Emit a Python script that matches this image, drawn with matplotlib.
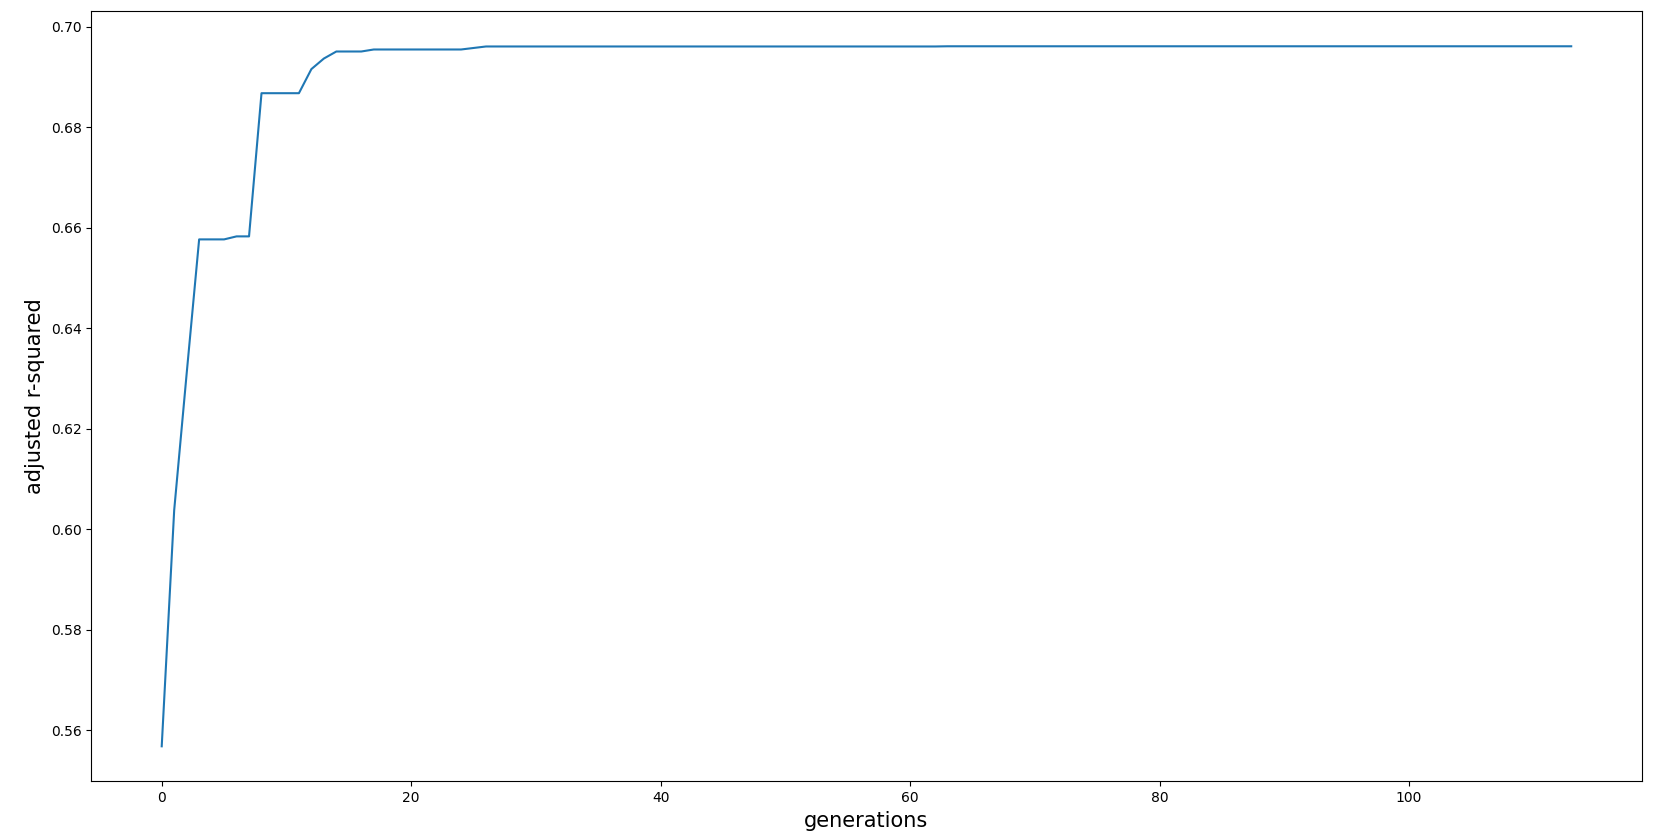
import matplotlib
matplotlib.use("Agg")
import matplotlib.pyplot as plt

generations = list(range(114))
adj_r2 = [
    0.5568, 0.6038, 0.6310, 0.6577, 0.6577, 0.6577, 0.6583, 0.6583, 0.6868, 0.6868,
    0.6868, 0.6868, 0.6916, 0.6937, 0.6951, 0.6951, 0.6951, 0.6955, 0.6955, 0.6955,
    0.6955, 0.6955, 0.6955, 0.6955, 0.6955, 0.6958, 0.6961, 0.6961, 0.6961, 0.6961,
    0.6961, 0.6961, 0.6961, 0.6961, 0.6961, 0.6961, 0.6961, 0.6961, 0.6961, 0.6961,
    0.6961, 0.6961, 0.6961, 0.6961, 0.6961, 0.6961, 0.6961, 0.6961, 0.6961, 0.6961,
    0.6961, 0.6961, 0.6961, 0.6961, 0.6961, 0.6961, 0.6961, 0.6961, 0.6961, 0.6961,
    0.6961, 0.6961, 0.6961, 0.69614, 0.69614, 0.69614, 0.69614, 0.69614, 0.69614, 0.69614,
    0.69614, 0.69614, 0.69614, 0.69614, 0.69614, 0.69614, 0.69614, 0.69614, 0.69614, 0.69614,
    0.69614, 0.69614, 0.69614, 0.69614, 0.69614, 0.69614, 0.69614, 0.69614, 0.69614, 0.69614,
    0.69614, 0.69614, 0.69614, 0.69614, 0.69614, 0.69614, 0.69614, 0.69614, 0.69614, 0.69614,
    0.69614, 0.69614, 0.69614, 0.69614, 0.69614, 0.69614, 0.69614, 0.69614, 0.69614, 0.69614,
    0.69614, 0.69614, 0.69614, 0.69614,
]

fig = plt.figure(figsize=(16.65, 8.35), dpi=100)
ax = fig.add_axes([0.0548, 0.0643, 0.9312, 0.9222])
ax.plot(generations, adj_r2, color="#1f77b4", linewidth=1.5)
ax.set_xlabel("generations", fontsize=15)
ax.set_ylabel("adjusted r-squared", fontsize=15)
fig.savefig("out.png", dpi=100)
